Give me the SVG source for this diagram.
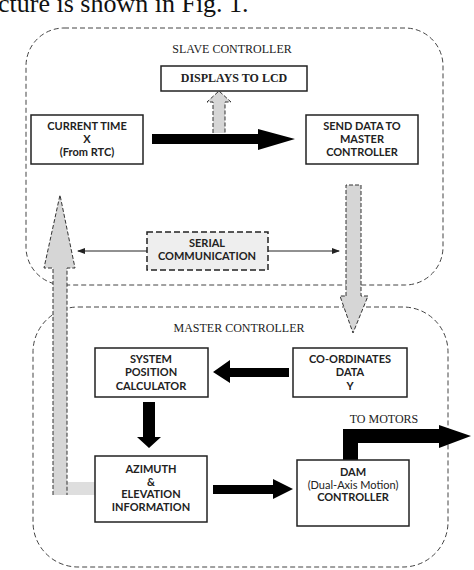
<svg xmlns="http://www.w3.org/2000/svg" width="474" height="570" viewBox="0 0 474 570">
<defs>
<style>
.cont{fill:none;stroke:#444;stroke-width:1;stroke-dasharray:5 3}
.box{fill:#fff;stroke:#222;stroke-width:1.5}
.t{font-family:Lato,"Liberation Sans",sans-serif;font-size:11px;font-weight:bold;fill:#222;text-anchor:middle}
.tn{font-weight:normal}
.st{font-family:"Liberation Serif",serif;font-size:12px;fill:#222;text-anchor:middle}
.gf{fill:#d6d6d6;stroke:none}
.gd{fill:none;stroke:#333;stroke-width:1;stroke-dasharray:4 2}
.blk{fill:#000}
.thin{stroke:#222;stroke-width:1;fill:none}
</style>
<marker id="ah" markerWidth="8" markerHeight="6" refX="7" refY="3" orient="auto" markerUnits="userSpaceOnUse">
<path d="M0,0 L8,3 L0,6 Z" fill="#222"/>
</marker>
</defs>
<rect width="474" height="570" fill="#fff"/>
<text x="-2" y="11.5" font-family="Liberation Serif,serif" font-size="26" fill="#111">cture is shown in Fig. 1.</text>

<g id="slave-controller">
<rect class="cont" x="26" y="28" width="417" height="257" rx="38" ry="38"/>
<text class="st" x="232" y="53">SLAVE CONTROLLER</text>
</g>
<g id="master-controller">
<rect class="cont" x="33" y="307" width="415" height="260" rx="45" ry="45"/>
<text class="st" x="239" y="332">MASTER CONTROLLER</text>
</g>

<g id="connectors">
<polygon class="gf" points="219,91 231,102 225,102 225,133 213,133 213,102 207,102"/>
<path class="gd" d="M213,133 V102 H207 L219,91 L231,102 H225 V133"/>
<polygon class="blk" points="152,134 258,134 258,129 295,139 258,150 258,144 152,144"/>
<polygon class="gf" points="346,185 361,185 361,296 368,296 353,333 340,296 346,296"/>
<path class="gd" d="M346,296 V185 H361 V296 H368 L353,333 L340,296 Z"/>
<rect x="53" y="482" width="42" height="13" fill="#dedede"/>
<polygon class="gf" points="60,195 75,268 67,268 67,495 53,495 53,268 44,268"/>
<path class="gd" d="M53,495 V268 H44 L60,195 L75,268 H67 V495"/>
<line class="thin" x1="147" y1="251" x2="78" y2="251" marker-end="url(#ah)"/>
<line class="thin" x1="268" y1="251" x2="339" y2="251" marker-end="url(#ah)"/>
<polygon class="blk" points="289,368 230,368 230,360 213,372 230,383 230,377 289,377"/>
<polygon class="blk" points="143,402 155,402 155,437 161,437 149,448 137,437 143,437"/>
<polygon class="blk" points="213,485 273,485 273,479 293,489 273,499 273,494 213,494"/>
<polygon class="blk" points="343,460 343,429 439,429 439,425 471,436 439,448 439,443 358,443 358,460"/>
<text class="st" x="384" y="423" font-size="11.5">TO MOTORS</text>
</g>

<g id="displays-lcd">
<rect class="box" x="161" y="66" width="146" height="25"/>
<text x="234" y="82" font-family="Liberation Serif,serif" font-size="12" font-weight="bold" text-anchor="middle" fill="#222">DISPLAYS TO LCD</text>
</g>
<g id="current-time">
<rect class="box" x="31" y="115" width="112" height="49"/>
<text class="t" x="87" y="130">CURRENT TIME</text>
<text class="t" x="87" y="143">X</text>
<text class="t" x="87" y="156">(From RTC)</text>
</g>
<g id="send-data">
<rect class="box" x="306" y="115" width="112" height="49"/>
<text class="t" x="362" y="130">SEND DATA TO</text>
<text class="t" x="362" y="143">MASTER</text>
<text class="t" x="362" y="156">CONTROLLER</text>
</g>
<g id="serial-communication">
<rect x="147" y="232" width="121" height="38" fill="#eeeeee" stroke="#222" stroke-width="1.5" stroke-dasharray="6 3"/>
<text class="t" x="207" y="247">SERIAL</text>
<text class="t" x="207" y="260">COMMUNICATION</text>
</g>
<g id="system-position">
<rect class="box" x="95" y="348" width="113" height="49"/>
<text class="t" x="151" y="363">SYSTEM</text>
<text class="t" x="151" y="376">POSITION</text>
<text class="t" x="151" y="390">CALCULATOR</text>
</g>
<g id="coordinates">
<rect class="box" x="293" y="348" width="114" height="49"/>
<text class="t" x="350" y="363">CO-ORDINATES</text>
<text class="t" x="350" y="376">DATA</text>
<text class="t" x="350" y="390">Y</text>
</g>
<g id="azimuth">
<rect class="box" x="95" y="456" width="112" height="66"/>
<text class="t" x="151" y="473">AZIMUTH</text>
<text class="t" x="151" y="486">&amp;</text>
<text class="t" x="151" y="498">ELEVATION</text>
<text class="t" x="151" y="511">INFORMATION</text>
</g>
<g id="dam">
<rect class="box" x="297" y="460" width="112" height="66"/>
<text class="t" x="353" y="476">DAM</text>
<text class="t tn" x="353" y="489">(Dual-Axis Motion)</text>
<text class="t" x="353" y="501">CONTROLLER</text>
</g>
</svg>
